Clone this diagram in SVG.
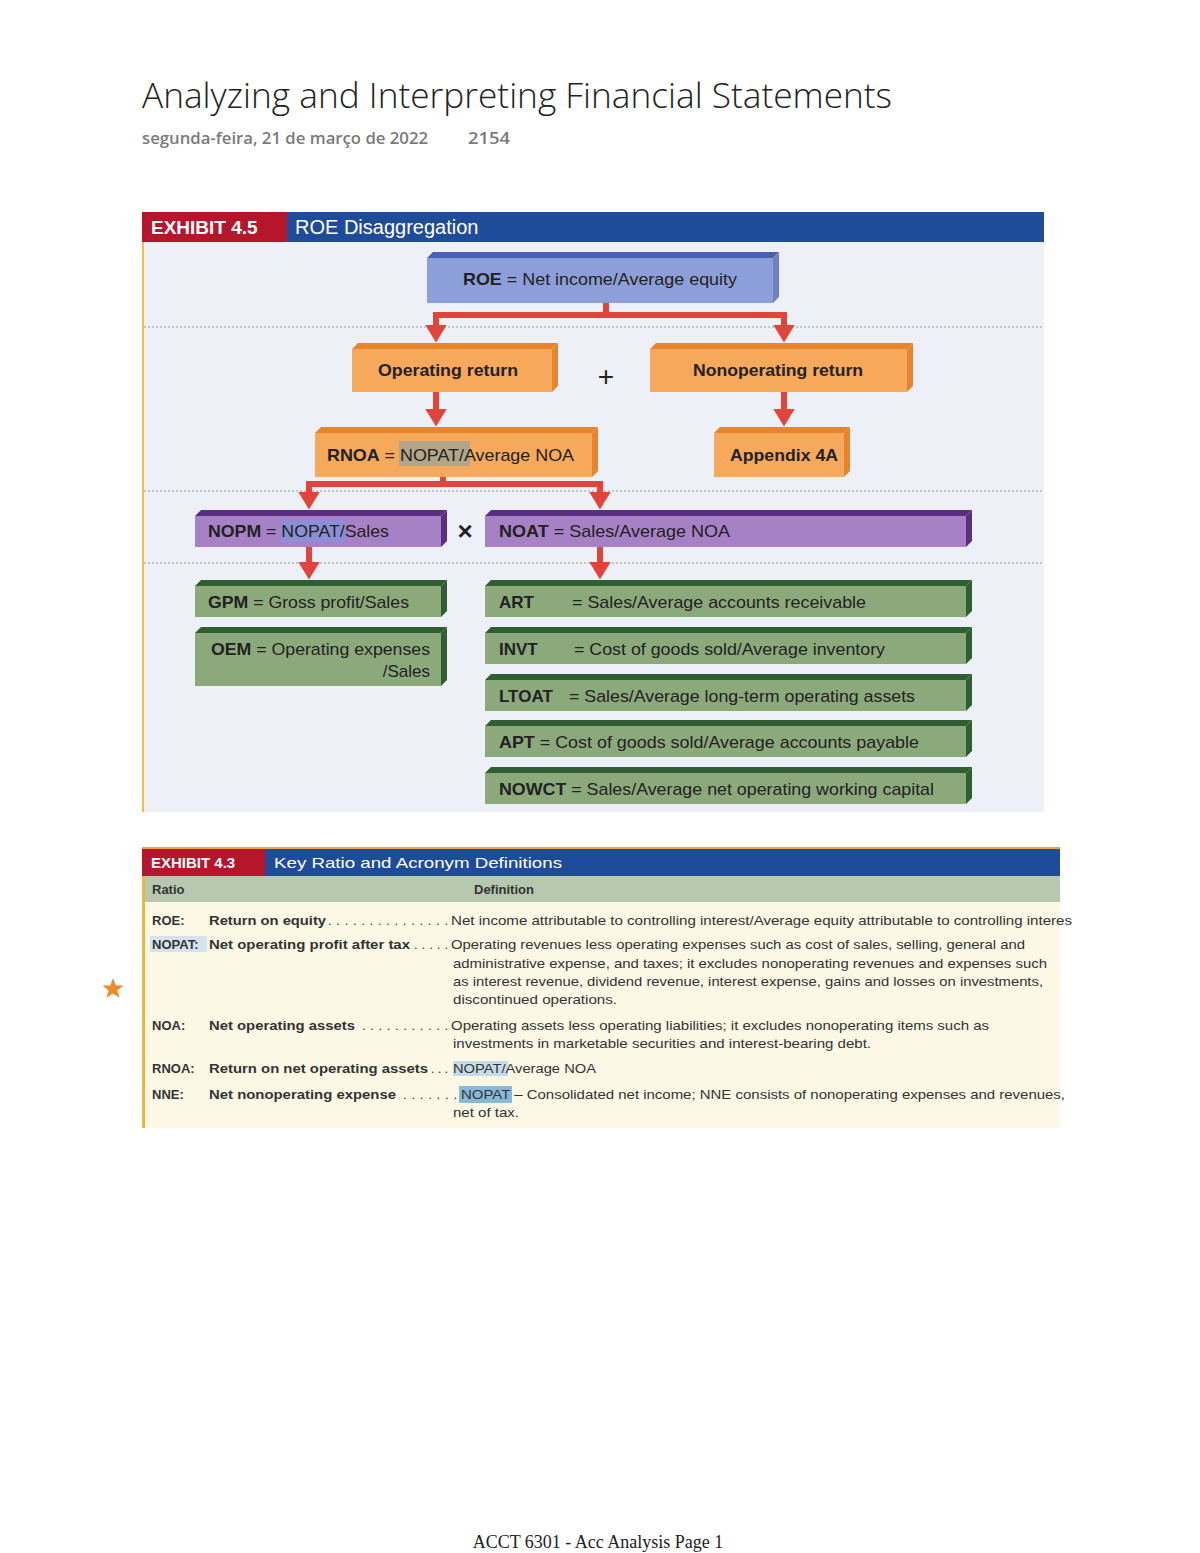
<svg xmlns="http://www.w3.org/2000/svg" width="1200" height="1553" viewBox="0 0 1200 1553">
<style>
.sans{font-family:"Liberation Sans",Arial,sans-serif}
.bx{font-family:"Liberation Sans",Arial,sans-serif;font-size:17px;fill:#222}
.b{font-weight:bold}
.tb{font-family:"Liberation Sans",Arial,sans-serif;font-size:13px;fill:#333}
.blue-f{fill:#8d9fd8}.blue-t{fill:#4b5fb2}.blue-r{fill:#6e80c6}
.or-f{fill:#f6a85b}.or-t{fill:#e8842c}
.pu-f{fill:#a781c6}.pu-t{fill:#5b2e84}
.gr-f{fill:#8ca97c}.gr-t{fill:#2f5f30}
.conn{fill:none;stroke:#e0443a;stroke-width:6;stroke-linejoin:miter}
.dot{stroke:#9a9a9a;stroke-width:1;stroke-dasharray:2 2}
</style>
<defs>
<marker id="ah" markerUnits="userSpaceOnUse" markerWidth="22" markerHeight="18" refX="11" refY="0.5" orient="0" viewBox="0 0 22 18">
<polygon points="0,0 22,0 11,18" fill="#e0443a"/>
</marker>
</defs>
<rect width="1200" height="1553" fill="#ffffff"/>

<!-- page header -->
<text x="142" y="108" font-family="'Open Sans','Noto Sans',sans-serif" font-weight="300" font-size="35" fill="#222" textLength="750" lengthAdjust="spacingAndGlyphs">Analyzing and Interpreting Financial Statements</text>
<text x="142" y="144" font-family="'Open Sans','Noto Sans',sans-serif" font-weight="600" font-size="17" fill="#7a7a7a" textLength="286" lengthAdjust="spacingAndGlyphs">segunda-feira, 21 de março de 2022</text>
<text x="468" y="144" font-family="'Open Sans','Noto Sans',sans-serif" font-weight="600" font-size="17" fill="#7a7a7a" textLength="42" lengthAdjust="spacingAndGlyphs">2154</text>

<!-- Exhibit 4.5 frame -->
<g id="exhibit45">
<rect x="142" y="242" width="902" height="570" fill="#eef0f7"/>
<rect x="142" y="242" width="2" height="570" fill="#f0c040"/>
<rect x="142" y="212" width="145" height="30" fill="#b5162c"/>
<rect x="287" y="212" width="757" height="30" fill="#1f4b9b"/>
<text x="151" y="234" class="sans b" font-size="19" fill="#fff">EXHIBIT 4.5</text>
<text x="295" y="234" class="sans" font-size="20" fill="#fff">ROE Disaggregation</text>
<line x1="144" y1="327" x2="1044" y2="327" class="dot"/>
<line x1="144" y1="491" x2="1044" y2="491" class="dot"/>
<line x1="144" y1="563" x2="1044" y2="563" class="dot"/>
</g>

<g id="connectors">
<path class="conn" d="M606,303 V315 H436 V325" marker-end="url(#ah)"/>
<path class="conn" d="M606,315 H784 V325" marker-end="url(#ah)"/>
<path class="conn" d="M436,392 V409" marker-end="url(#ah)"/>
<path class="conn" d="M784,392 V409" marker-end="url(#ah)"/>
<path class="conn" d="M443,477 V484 H309 V492" marker-end="url(#ah)"/>
<path class="conn" d="M443,484 H600 V492" marker-end="url(#ah)"/>
<path class="conn" d="M309,547 V562" marker-end="url(#ah)"/>
<path class="conn" d="M600,547 V562" marker-end="url(#ah)"/>
</g>

<g id="roe">
<rect x="427" y="258" width="346" height="45" class="blue-f"/>
<polygon points="427,258 433,252 779,252 773,258" class="blue-t"/>
<polygon points="773,258 779,252 779,297 773,303" class="blue-r"/>
<text x="463" y="285" class="bx" font-size="16.5" textLength="274" lengthAdjust="spacingAndGlyphs"><tspan class="b">ROE</tspan> = Net income/Average equity</text>
</g>

<g id="operating-return">
<rect x="352" y="349" width="200" height="43" class="or-f"/>
<polygon points="352,349 358,343 558,343 552,349" class="or-t"/>
<polygon points="552,349 558,343 558,386 552,392" class="or-t"/>
<text x="378" y="376" class="bx b" textLength="140" lengthAdjust="spacingAndGlyphs">Operating return</text>
</g>

<text id="plus" x="606" y="386" class="sans" font-size="28" fill="#222" text-anchor="middle">+</text>

<g id="nonoperating-return">
<rect x="650" y="349" width="257" height="43" class="or-f"/>
<polygon points="650,349 656,343 913,343 907,349" class="or-t"/>
<polygon points="907,349 913,343 913,386 907,392" class="or-t"/>
<text x="693" y="376" class="bx b" textLength="170" lengthAdjust="spacingAndGlyphs">Nonoperating return</text>
</g>

<g id="rnoa">
<rect x="315" y="433" width="277" height="44" class="or-f"/>
<polygon points="315,433 321,427 598,427 592,433" class="or-t"/>
<polygon points="592,433 598,427 598,471 592,477" class="or-t"/>
<rect x="399" y="441" width="71" height="25" fill="#b3a688"/>
<text x="327" y="461" class="bx" textLength="247" lengthAdjust="spacingAndGlyphs"><tspan class="b">RNOA</tspan> = NOPAT/Average NOA</text>
</g>

<g id="appendix-4a">
<rect x="714" y="433" width="130" height="44" class="or-f"/>
<polygon points="714,433 720,427 850,427 844,433" class="or-t"/>
<polygon points="844,433 850,427 850,471 844,477" class="or-t"/>
<text x="730" y="461" class="bx b" textLength="108" lengthAdjust="spacingAndGlyphs">Appendix 4A</text>
</g>

<g id="nopm">
<rect x="195" y="516" width="246" height="31" class="pu-f"/>
<polygon points="195,516 201,510 447,510 441,516" class="pu-t"/>
<polygon points="441,516 447,510 447,541 441,547" class="pu-t"/>
<rect x="281" y="520" width="64" height="22" fill="#8d8ed8"/>
<text x="208" y="537" class="bx" textLength="181" lengthAdjust="spacingAndGlyphs"><tspan class="b">NOPM</tspan> = NOPAT/Sales</text>
</g>

<text id="times" x="465" y="540" class="sans b" font-size="26" fill="#222" text-anchor="middle">×</text>

<g id="noat">
<rect x="485" y="516" width="481" height="31" class="pu-f"/>
<polygon points="485,516 491,510 972,510 966,516" class="pu-t"/>
<polygon points="966,516 972,510 972,541 966,547" class="pu-t"/>
<text x="499" y="537" class="bx" textLength="231" lengthAdjust="spacingAndGlyphs"><tspan class="b">NOAT</tspan> = Sales/Average NOA</text>
</g>

<g id="gpm">
<rect x="195" y="586" width="246" height="31" class="gr-f"/>
<polygon points="195,586 201,580 447,580 441,586" class="gr-t"/>
<polygon points="441,586 447,580 447,611 441,617" class="gr-t"/>
<text x="208" y="608" class="bx" textLength="201" lengthAdjust="spacingAndGlyphs"><tspan class="b">GPM</tspan> = Gross profit/Sales</text>
</g>

<g id="oem">
<rect x="195" y="633" width="246" height="53" class="gr-f"/>
<polygon points="195,633 201,627 447,627 441,633" class="gr-t"/>
<polygon points="441,633 447,627 447,680 441,686" class="gr-t"/>
<text x="430" y="655" class="bx" text-anchor="end" textLength="219" lengthAdjust="spacingAndGlyphs"><tspan class="b">OEM</tspan> = Operating expenses</text>
<text x="430" y="677" class="bx" text-anchor="end">/Sales</text>
</g>

<g id="art">
<rect x="485" y="586" width="481" height="31" class="gr-f"/>
<polygon points="485,586 491,580 972,580 966,586" class="gr-t"/>
<polygon points="966,586 972,580 972,611 966,617" class="gr-t"/>
<text x="499" y="608" class="bx b">ART</text>
<text x="572" y="608" class="bx" textLength="294" lengthAdjust="spacingAndGlyphs">= Sales/Average accounts receivable</text>
</g>

<g id="invt">
<rect x="485" y="633" width="481" height="31" class="gr-f"/>
<polygon points="485,633 491,627 972,627 966,633" class="gr-t"/>
<polygon points="966,633 972,627 972,658 966,664" class="gr-t"/>
<text x="499" y="655" class="bx b">INVT</text>
<text x="574" y="655" class="bx" textLength="311" lengthAdjust="spacingAndGlyphs">= Cost of goods sold/Average inventory</text>
</g>

<g id="ltoat">
<rect x="485" y="680" width="481" height="31" class="gr-f"/>
<polygon points="485,680 491,674 972,674 966,680" class="gr-t"/>
<polygon points="966,680 972,674 972,705 966,711" class="gr-t"/>
<text x="499" y="702" class="bx b">LTOAT</text>
<text x="569" y="702" class="bx" textLength="346" lengthAdjust="spacingAndGlyphs">= Sales/Average long-term operating assets</text>
</g>

<g id="apt">
<rect x="485" y="726" width="481" height="31" class="gr-f"/>
<polygon points="485,726 491,720 972,720 966,726" class="gr-t"/>
<polygon points="966,726 972,720 972,751 966,757" class="gr-t"/>
<text x="499" y="748" class="bx" textLength="420" lengthAdjust="spacingAndGlyphs"><tspan class="b">APT</tspan> = Cost of goods sold/Average accounts payable</text>
</g>

<g id="nowct">
<rect x="485" y="773" width="481" height="31" class="gr-f"/>
<polygon points="485,773 491,767 972,767 966,773" class="gr-t"/>
<polygon points="966,773 972,767 972,798 966,804" class="gr-t"/>
<text x="499" y="795" class="bx" textLength="435" lengthAdjust="spacingAndGlyphs"><tspan class="b">NOWCT</tspan> = Sales/Average net operating working capital</text>
</g>

<!-- Exhibit 4.3 table -->
<g id="exhibit43">
<rect x="142" y="902" width="918" height="226" fill="#fcf8e6"/>
<rect x="142" y="847" width="918" height="2" fill="#e9a848"/>
<rect x="142" y="849" width="123" height="27" fill="#b5162c"/>
<rect x="265" y="849" width="795" height="27" fill="#1f4b9b"/>
<text x="151" y="868" class="sans b" font-size="15" fill="#fff">EXHIBIT 4.3</text>
<text x="274" y="868" class="sans" font-size="15" fill="#fff" textLength="288" lengthAdjust="spacingAndGlyphs">Key Ratio and Acronym Definitions</text>
<rect x="142" y="876" width="918" height="26" fill="#b6c8b0"/>
<rect x="142" y="876" width="3" height="252" fill="#eab640"/>
<text x="152" y="894" class="tb b">Ratio</text>
<text x="474" y="894" class="tb b">Definition</text>

<rect x="150" y="936" width="57" height="16" fill="#d4e3ef"/>
<rect x="453" y="1061" width="55" height="15" fill="#c6dbea"/>
<rect x="459" y="1086" width="53" height="17" fill="#8ab8d8"/>

<text x="152" y="925" class="tb b">ROE:</text>
<text x="209" y="925" class="tb b" textLength="117" lengthAdjust="spacingAndGlyphs">Return on equity</text>
<text x="328" y="925" class="tb" textLength="120" lengthAdjust="spacing">. . . . . . . . . . . . . . .</text>
<text x="451" y="925" class="tb" textLength="621" lengthAdjust="spacingAndGlyphs">Net income attributable to controlling interest/Average equity attributable to controlling interes</text>

<text x="152" y="949" class="tb b">NOPAT:</text>
<text x="209" y="949" class="tb b" textLength="201" lengthAdjust="spacingAndGlyphs">Net operating profit after tax</text>
<text x="414" y="949" class="tb" textLength="34" lengthAdjust="spacing">. . . . .</text>
<text x="451" y="949" class="tb" textLength="574" lengthAdjust="spacingAndGlyphs">Operating revenues less operating expenses such as cost of sales, selling, general and</text>
<text x="453" y="968" class="tb" textLength="594" lengthAdjust="spacingAndGlyphs">administrative expense, and taxes; it excludes nonoperating revenues and expenses such</text>
<text x="453" y="986" class="tb" textLength="590" lengthAdjust="spacingAndGlyphs">as interest revenue, dividend revenue, interest expense, gains and losses on investments,</text>
<text x="453" y="1004" class="tb" textLength="164" lengthAdjust="spacingAndGlyphs">discontinued operations.</text>

<text x="152" y="1030" class="tb b">NOA:</text>
<text x="209" y="1030" class="tb b" textLength="146" lengthAdjust="spacingAndGlyphs">Net operating assets</text>
<text x="362" y="1030" class="tb" textLength="86" lengthAdjust="spacing">. . . . . . . . . . .</text>
<text x="451" y="1030" class="tb" textLength="538" lengthAdjust="spacingAndGlyphs">Operating assets less operating liabilities; it excludes nonoperating items such as</text>
<text x="453" y="1048" class="tb" textLength="418" lengthAdjust="spacingAndGlyphs">investments in marketable securities and interest-bearing debt.</text>

<text x="152" y="1073" class="tb b">RNOA:</text>
<text x="209" y="1073" class="tb b" textLength="219" lengthAdjust="spacingAndGlyphs">Return on net operating assets</text>
<text x="431" y="1073" class="tb" textLength="17" lengthAdjust="spacing">. . .</text>
<text x="453" y="1073" class="tb" textLength="143" lengthAdjust="spacingAndGlyphs">NOPAT/Average NOA</text>

<text x="152" y="1099" class="tb b">NNE:</text>
<text x="209" y="1099" class="tb b" textLength="187" lengthAdjust="spacingAndGlyphs">Net nonoperating expense</text>
<text x="403" y="1099" class="tb" textLength="54" lengthAdjust="spacing">. . . . . . .</text>
<text x="461" y="1099" class="tb" textLength="604" lengthAdjust="spacingAndGlyphs">NOPAT – Consolidated net income; NNE consists of nonoperating expenses and revenues,</text>
<text x="453" y="1117" class="tb" textLength="66" lengthAdjust="spacingAndGlyphs">net of tax.</text>
</g>

<polygon id="star" points="113,978 115.8,985.4 123.5,985.6 117.4,990.4 119.6,997.8 113,993.4 106.4,997.8 108.6,990.4 102.5,985.6 110.2,985.4" fill="#f08a2e"/>

<text x="598" y="1548" font-family="'Liberation Serif','Times New Roman',serif" font-size="18" fill="#222" text-anchor="middle">ACCT 6301 - Acc Analysis Page 1</text>
</svg>
